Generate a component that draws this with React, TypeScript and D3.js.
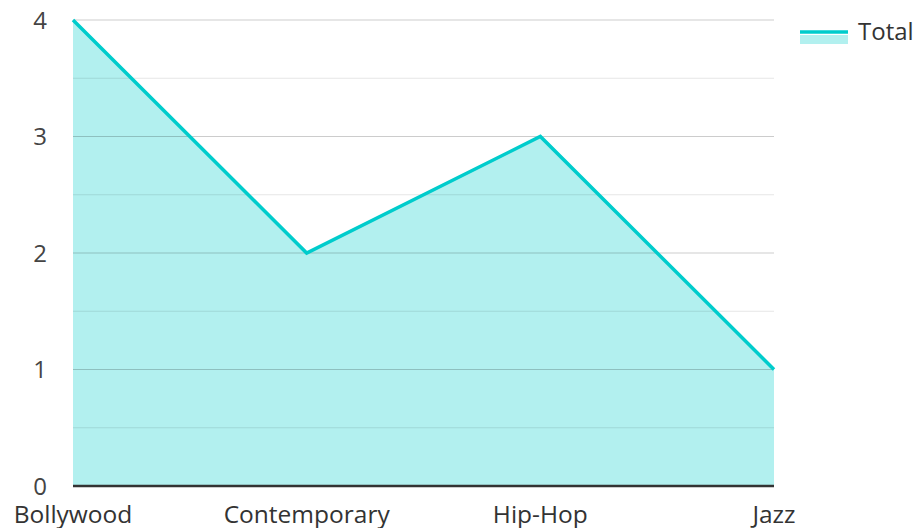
import React from "react";
import * as d3 from "d3";

const categories = ["Bollywood", "Contemporary", "Hip-Hop", "Jazz"];
const totals = [4, 2, 3, 1];
const yTicks = [0, 1, 2, 3, 4];
const minorTicks = [0.5, 1.5, 2.5, 3.5];
const seriesName = "Total";

export default function App() {
  const W = 915, H = 528;
  const left = 73, right = 774, top = 20, bottom = 486;
  const x = d3.scalePoint<string>().domain(categories).range([left, right]);
  const y = d3.scaleLinear().domain([0, 4]).range([bottom, top]);
  const pts = categories.map((c, i) => [x(c)!, y(totals[i])] as [number, number]);
  const area = d3.area<[number, number]>().x(d => d[0]).y0(y(0)).y1(d => d[1])(pts)!;
  const line = d3.line<[number, number]>().x(d => d[0]).y(d => d[1])(pts)!;
  const font = "'Open Sans', sans-serif";
  return (
    <svg width={W} height={H} style={{ position: "absolute", left: 0, top: 0 }} fontFamily={font}>
      <path d={area} fill="#b2f0ef" />
      {minorTicks.map(t => (
        <line key={"m" + t} x1={left} x2={right} y1={y(t)} y2={y(t)} stroke="#000" strokeOpacity={0.1} strokeWidth={1} />
      ))}
      {yTicks.filter(t => t > 0).map(t => (
        <line key={"g" + t} x1={left} x2={right} y1={y(t)} y2={y(t)} stroke="#000" strokeOpacity={0.2} strokeWidth={1} />
      ))}
      <path d={line} fill="none" stroke="#00cccc" strokeWidth={3.5} strokeLinejoin="miter" />
      <line x1={left} x2={right} y1={bottom} y2={bottom} stroke="#333" strokeWidth={2.5} />
      {yTicks.map(t => (
        <text key={"y" + t} x={47} y={y(t) + 8.5} textAnchor="end" fontSize={24} fill="#444">{t}</text>
      ))}
      {categories.map(c => (
        <text key={c} x={x(c)!} y={523} textAnchor="middle" fontSize={24.5} fill="#333">{c}</text>
      ))}
      <rect x={800} y={35} width={48} height={9} fill="#b2f0ef" />
      <line x1={800} x2={848} y1={32} y2={32} stroke="#00cccc" strokeWidth={3.5} />
      <text x={858} y={40} fontSize={24} fill="#333">{seriesName}</text>
    </svg>
  );
}
